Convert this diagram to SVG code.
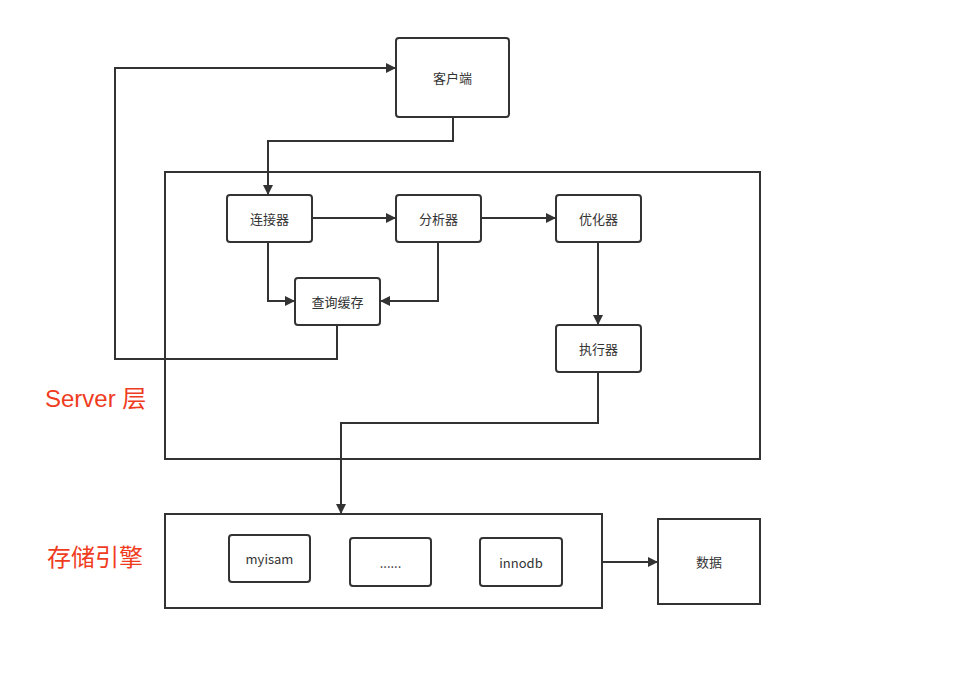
<svg xmlns="http://www.w3.org/2000/svg" width="964" height="697" viewBox="0 0 964 697">
<style>
.b{fill:#fff;stroke:#333;stroke-width:2}
.t{font-family:"Noto Sans CJK SC","Liberation Sans",sans-serif;font-size:13px;fill:#333;text-anchor:middle;dominant-baseline:central}
.c{fill:none;stroke:#333;stroke-width:2}
.r{font-family:"Liberation Sans","Noto Sans CJK SC",sans-serif;font-size:24px;fill:#f03c1e}
</style>
<defs><marker id="a" markerWidth="10" markerHeight="10" refX="9" refY="5" orient="auto" markerUnits="userSpaceOnUse"><path d="M0,0L10,5L0,10z" fill="#333"/></marker></defs>
<rect width="964" height="697" fill="#fff"/>
<g id="server"><rect class="b" x="165" y="172" width="595" height="287"/></g>
<g id="storage"><rect class="b" x="165" y="514" width="437" height="94"/></g>
<g id="client"><rect class="b" x="396" y="38" width="113" height="79" rx="3"/><text class="t" x="452.5" y="77.5">客户端</text></g>
<g id="conn"><rect class="b" x="227" y="195" width="85" height="47" rx="3"/><text class="t" x="269.5" y="218.5">连接器</text></g>
<g id="parse"><rect class="b" x="396" y="195" width="85" height="47" rx="3"/><text class="t" x="438.5" y="218.5">分析器</text></g>
<g id="opt"><rect class="b" x="556" y="195" width="85" height="47" rx="3"/><text class="t" x="598.5" y="218.5">优化器</text></g>
<g id="cache"><rect class="b" x="295" y="278" width="85" height="47" rx="3"/><text class="t" x="337.5" y="301.5">查询缓存</text></g>
<g id="exec"><rect class="b" x="556" y="325" width="85" height="47" rx="3"/><text class="t" x="598.5" y="348.5">执行器</text></g>
<g id="myisam"><rect class="b" x="229" y="535" width="81" height="47" rx="3"/><text class="t" x="269.5" y="558.5">myisam</text></g>
<g id="dots"><rect class="b" x="350" y="538" width="81" height="48" rx="3"/><text class="t" x="390.5" y="562">......</text></g>
<g id="innodb"><rect class="b" x="480" y="538" width="82" height="48" rx="3"/><text class="t" x="521" y="562">innodb</text></g>
<g id="data"><rect class="b" x="658" y="519" width="102" height="85"/><text class="t" x="709" y="561.5">数据</text></g>
<text class="r" x="45" y="407">Server 层</text>
<text class="r" x="47" y="566">存储引擎</text>
<g id="connectors">
<path class="c" d="M453,117V141H268V194" marker-end="url(#a)"/>
<path class="c" d="M337,325V359H115V68H395" marker-end="url(#a)"/>
<path class="c" d="M312,218H395" marker-end="url(#a)"/>
<path class="c" d="M481,218H555" marker-end="url(#a)"/>
<path class="c" d="M268,242V301H294" marker-end="url(#a)"/>
<path class="c" d="M438,242V301H381" marker-end="url(#a)"/>
<path class="c" d="M598,242V324" marker-end="url(#a)"/>
<path class="c" d="M598,372V423H341V513" marker-end="url(#a)"/>
<path class="c" d="M602,562H657" marker-end="url(#a)"/>
</g>
</svg>
